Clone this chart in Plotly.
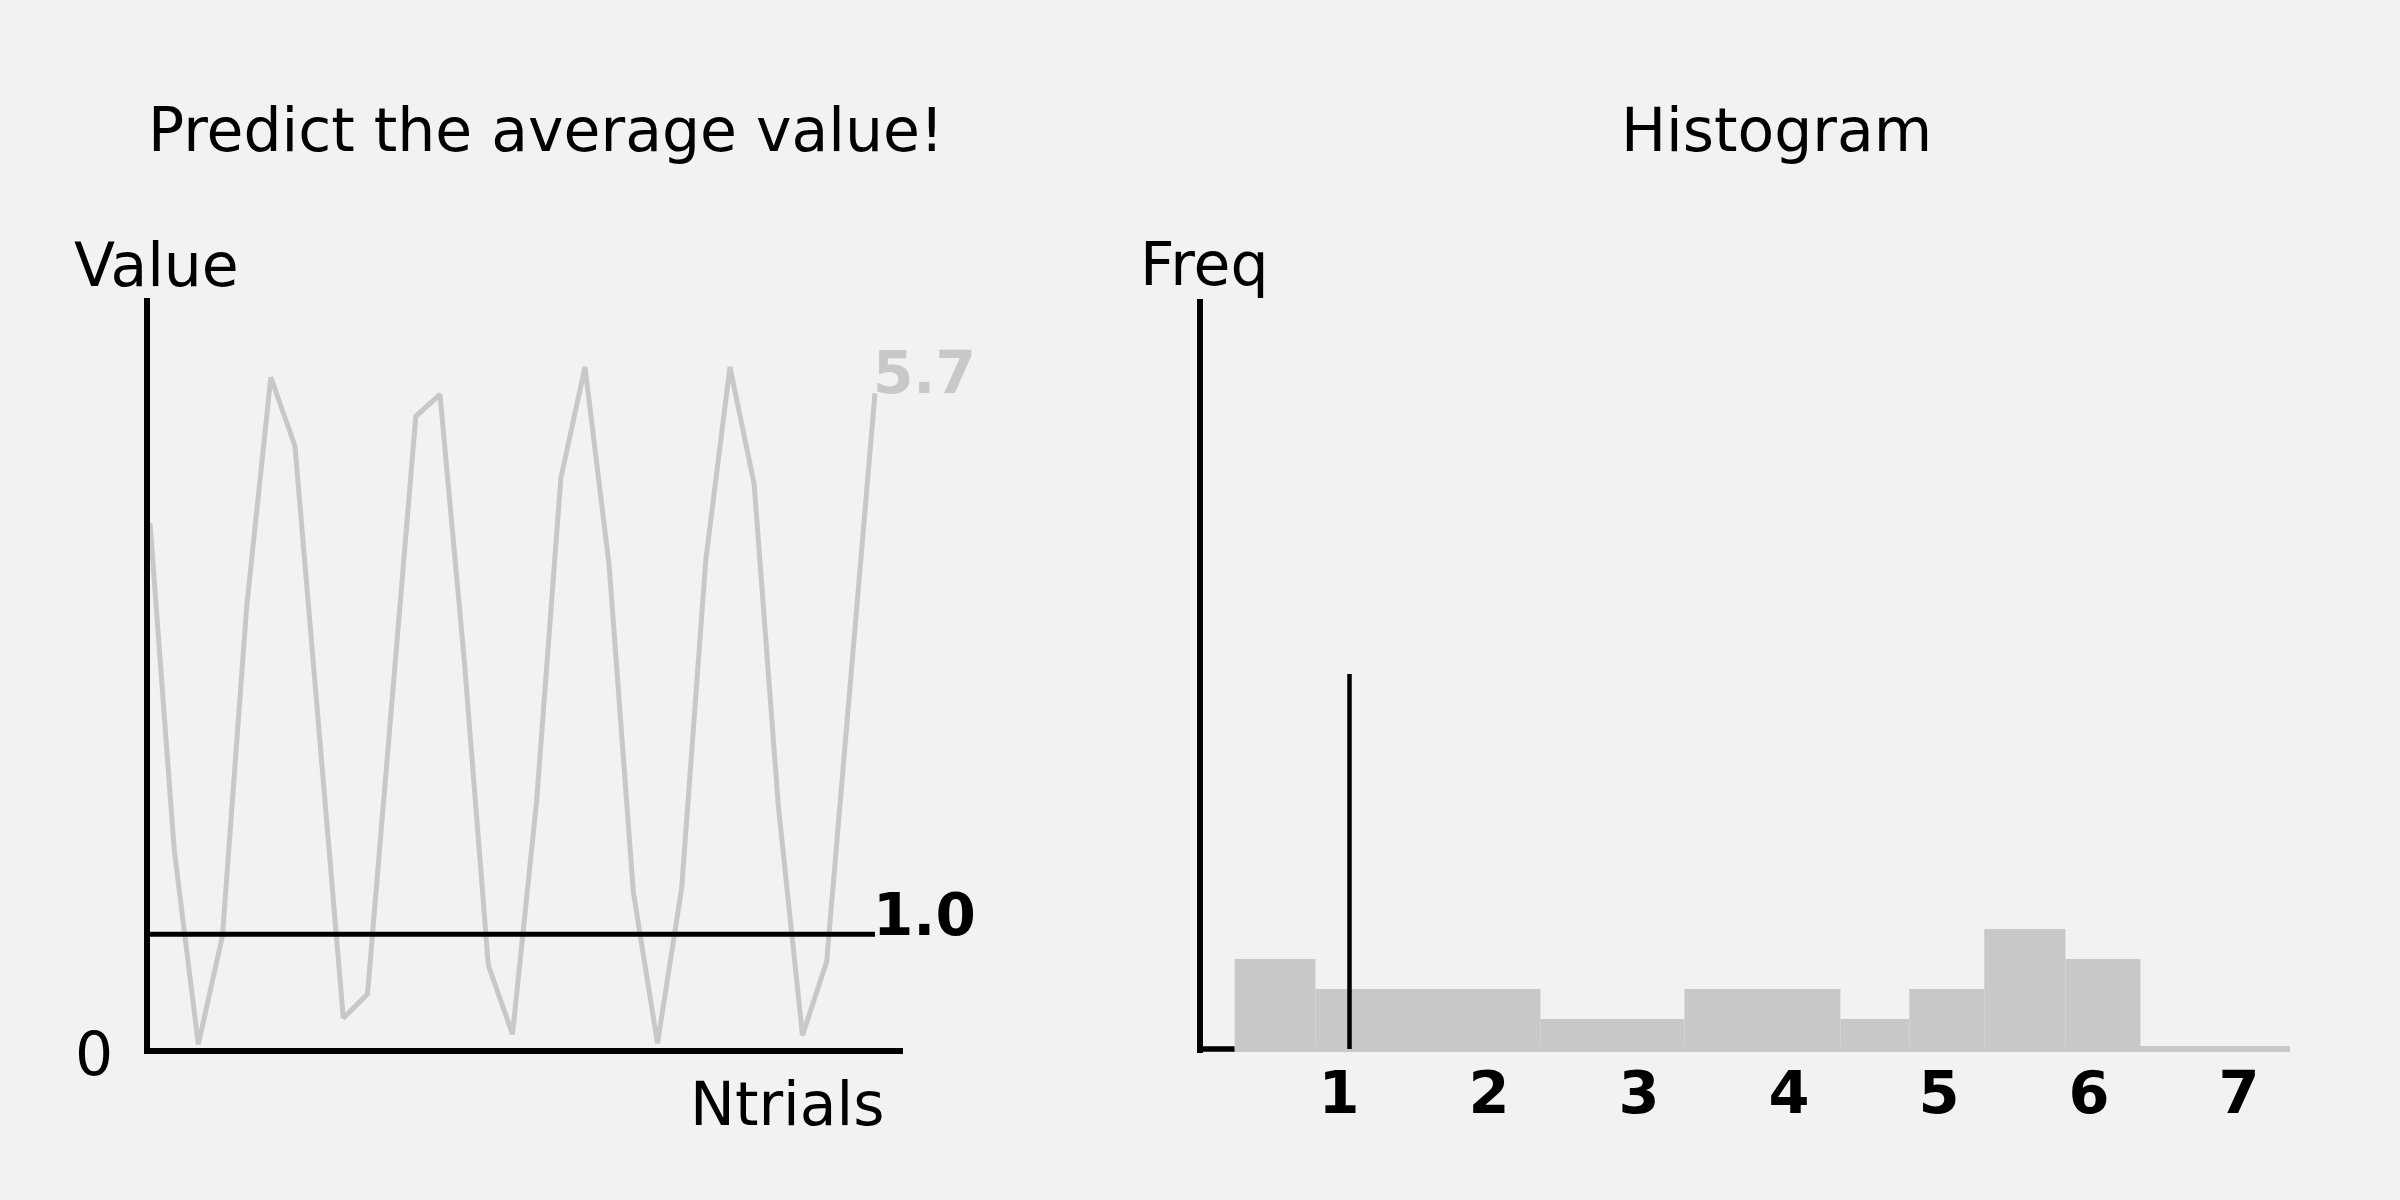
import plotly.graph_objects as go

# values
trial_values = [4.57, 1.73, 0.03, 0.98, 3.84, 5.84, 5.24, 2.70, 0.26, 0.47,
                3.00, 5.50, 5.69, 3.39, 0.72, 0.12, 2.15, 4.96, 5.93, 4.20,
                1.36, 0.04, 1.39, 4.25, 5.93, 4.91, 2.11, 0.11, 0.75, 3.25, 5.70]
trials = list(range(len(trial_values)))
guess_value = 0.99

bin_edges = [0.305, 0.843, 1.34, 1.84, 2.343, 2.82, 3.303, 3.82,
             4.343, 4.802, 5.302, 5.843, 6.343, 6.84, 7.34]
bin_counts = [3, 2, 2, 2, 1, 1, 2, 2, 1, 2, 4, 3, 0, 0]
hist_ticks = [1, 2, 3, 4, 5, 6, 7]
hist_marker = 1.07

BG = "#f2f2f2"
GREY = "#c8c8c8"
FONT = "DejaVu Sans"
W, H = 2400, 1200


def px_x(p):
    return p / W


def px_y(p):
    return 1 - p / H


bin_centers = [(a + b) / 2 for a, b in zip(bin_edges[:-1], bin_edges[1:])]
bin_widths = [b - a for a, b in zip(bin_edges[:-1], bin_edges[1:])]

fig = go.Figure()

# left panel: trial values and the guess
fig.add_trace(go.Scatter(
    x=trials, y=trial_values, mode="lines",
    line=dict(color=GREY, width=5), xaxis="x", yaxis="y"
))
fig.add_trace(go.Scatter(
    x=[trials[0], trials[-1]], y=[guess_value, guess_value], mode="lines",
    line=dict(color="black", width=5), xaxis="x", yaxis="y"
))

# right panel: histogram
fig.add_trace(go.Bar(
    x=bin_centers, y=bin_counts, width=bin_widths,
    marker=dict(color=GREY, line=dict(width=0)), xaxis="x2", yaxis="y2"
))
fig.add_trace(go.Scatter(
    x=[bin_edges[0], bin_edges[-1]], y=[0, 0], mode="lines",
    line=dict(color=GREY, width=6), xaxis="x2", yaxis="y2"
))
hist_yrange = [-0.12, 25]
fig.add_trace(go.Scatter(
    x=[hist_marker, hist_marker], y=[0, hist_yrange[1] / 2], mode="lines",
    line=dict(color="black", width=4.5), xaxis="x2", yaxis="y2"
))

hist_xrange = [0.09, 7.5]
fig.add_shape(type="line", xref="x2", yref="y2",
              x0=hist_xrange[0], x1=bin_edges[0], y0=0, y1=0,
              line=dict(color="black", width=5.5), layer="below")

big = dict(family=FONT, size=60, color="black")
annotations = [
    dict(text="Predict the average value!", x=px_x(546), y=px_y(130)),
    dict(text="Histogram", x=px_x(1776), y=px_y(130)),
    dict(text="Value", x=px_x(156), y=px_y(265)),
    dict(text="Freq", x=px_x(1204), y=px_y(264)),
    dict(text="0", x=px_x(94), y=px_y(1054)),
    dict(text="Ntrials", x=px_x(885), y=px_y(1104), xanchor="right"),
]
for a in annotations:
    a.setdefault("xanchor", "center")
    fig.add_annotation(xref="paper", yref="paper", yanchor="middle",
                       showarrow=False, font=big, borderpad=0, **a)

bold = dict(family=FONT, size=58, weight="bold")
fig.add_annotation(x=trials[-1], y=trial_values[-1], xref="x", yref="y",
                   text=f"{trial_values[-1]:.1f}", showarrow=False,
                   xanchor="left", yanchor="middle", xshift=-3, yshift=20,
                   borderpad=0, font=dict(bold, color=GREY))
fig.add_annotation(x=trials[-1], y=guess_value, xref="x", yref="y",
                   text=f"{guess_value:.1f}", showarrow=False,
                   xanchor="left", yanchor="middle", xshift=-3, yshift=19,
                   borderpad=0, font=dict(bold, color="black"))

plain_axis = dict(showgrid=False, zeroline=False, ticks="", showticklabels=False,
                  fixedrange=True)

fig.update_layout(
    width=W, height=H,
    margin=dict(l=0, r=0, t=0, b=0),
    paper_bgcolor=BG, plot_bgcolor=BG,
    showlegend=False,
    xaxis=dict(plain_axis, domain=[px_x(150), px_x(903)], range=[0, 31.16],
               showline=True, linecolor="black", linewidth=5.5, anchor="y"),
    yaxis=dict(plain_axis, domain=[px_y(1048), px_y(298)], range=[0, 6.53],
               showline=True, linecolor="black", linewidth=5.5, anchor="x"),
    xaxis2=dict(showgrid=False, zeroline=False, ticks="", fixedrange=True,
                domain=[px_x(1202.5), px_x(2314)], range=hist_xrange,
                showline=False, anchor="y2",
                tickvals=hist_ticks, ticktext=[str(t) for t in hist_ticks],
                tickfont=dict(family=FONT, size=59, color="black", weight="bold")),
    yaxis2=dict(plain_axis, domain=[px_y(1052.6), px_y(299)], range=hist_yrange,
                showline=True, linecolor="black", linewidth=5.5, anchor="x2"),
)

# drop the default page margin so the figure sits flush in the window
fig.write_html("out.html", config={"displayModeBar": False},
               post_script="document.body.style.margin='0';")
